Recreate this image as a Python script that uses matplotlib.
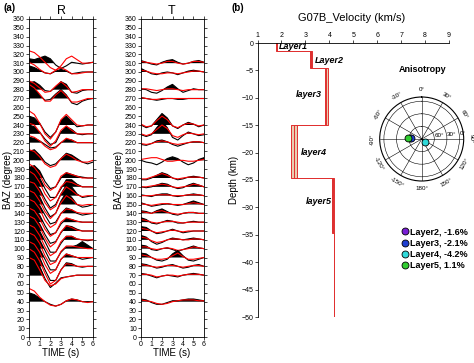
import numpy as np
import matplotlib.pyplot as plt
from matplotlib.lines import Line2D

plt.rcParams['font.family'] = ['Liberation Sans', 'DejaVu Sans']

# ---- receiver functions (amplitudes in degree units, sampled every 0.5 s) ----
time_s = [0, 0.5, 1, 1.5, 2, 2.5, 3, 3.5, 4, 4.5, 5, 5.5, 6]
baz = [310, 300, 280, 270, 240, 230, 220, 200, 180, 170, 160,
       150, 140, 130, 120, 110, 100, 90, 80, 70, 40]

r_obs = [
    [5, 4, 6, 8, 5, -2, -6, -3, 1, 0, -1, 0, 1],
    [7, 5, 2, -1, -2, 1, 3, 1, -2, -1, 0, 0, 0],
    [8, 9, 5, -1, -2, 3, 9, 6, -3, -4, -1, 0, 0],
    [14, 11, 4, -2, -1, 5, 10, 4, -5, -7, -3, -1, 0],
    [10, 8, 2, -8, -14, -8, 5, 10, 4, -2, -1, 0, 0],
    [10, 8, 2, -6, -12, -10, 2, 8, 5, 0, -1, 0, 0],
    [6, 5, 2, -2, -6, -5, 0, 4, 3, 0, 0, 0, 0],
    [10, 12, 6, -2, -6, -4, 2, 8, 6, 2, -2, -4, -2],
    [12, 14, 8, -4, -12, -10, 0, 6, 4, 2, 1, 0, 0],
    [14, 16, 10, -2, -12, -12, -2, 8, 8, 3, 0, 0, 0],
    [14, 14, 8, -4, -14, -10, 2, 12, 10, 2, -2, -1, 0],
    [14, 15, 9, -4, -14, -10, 4, 14, 8, 0, -3, -2, 0],
    [14, 15, 9, -2, -12, -10, 0, 6, 4, 0, -2, -1, 0],
    [14, 14, 8, -4, -14, -12, -2, 4, 3, 1, 0, 0, 0],
    [15, 15, 8, -4, -14, -12, -2, 6, 5, 2, 0, 0, 0],
    [15, 16, 10, -2, -14, -14, -4, 4, 4, 1, 0, -1, 0],
    [16, 16, 10, -2, -14, -14, -4, 2, 2, 4, 8, 4, 0],
    [16, 17, 10, -2, -14, -14, -2, 4, 2, 0, -2, -1, 0],
    [18, 18, 10, -4, -16, -16, -4, 4, 3, 0, -1, 0, 0],
    [20, 20, 10, -4, -14, -9, -3, -2, -1, 0, 0, 0, 0],
    [10, 8, 4, 0, -3, -5, -3, 1, 3, 2, 0, 0, 0],
]
r_pred = [
    [14, 12, 7, 1, -5, -8, -3, 5, 8, 4, 0, 0, 1],
    [11, 8, 3, -1, -2, 2, 5, 2, -2, -2, -1, 0, 0],
    [10, 7, 2, -3, -2, 4, 9, 4, -3, -2, 0, 0, 0],
    [16, 12, 5, -3, -3, 4, 9, 3, -4, -4, -2, 0, 0],
    [16, 12, 2, -10, -16, -8, 6, 12, 6, 0, -1, 0, 0],
    [12, 10, 2, -8, -14, -8, 4, 9, 4, 0, 0, 0, 0],
    [8, 6, 2, -4, -8, -6, 0, 5, 3, 0, 0, 0, 0],
    [12, 10, 4, -4, -8, -6, 2, 7, 4, 0, -2, -2, 0],
    [16, 12, 4, -8, -14, -10, 2, 6, 4, 2, 0, 0, 0],
    [18, 14, 5, -8, -16, -12, 0, 6, 5, 2, 0, 0, 0],
    [16, 14, 5, -8, -16, -12, 2, 10, 6, 1, -1, 0, 0],
    [16, 13, 4, -8, -16, -10, 2, 10, 6, 0, -1, 0, 0],
    [16, 13, 5, -8, -16, -12, 0, 5, 4, 1, 0, 0, 0],
    [16, 13, 4, -8, -16, -12, 0, 5, 3, 1, 0, 0, 0],
    [17, 14, 5, -8, -18, -13, -1, 6, 4, 1, 0, 0, 0],
    [17, 14, 5, -8, -18, -14, -2, 4, 4, 1, 0, 0, 0],
    [18, 15, 6, -8, -18, -15, -3, 3, 3, 2, 1, 0, 0],
    [18, 15, 6, -8, -18, -14, -2, 4, 2, 0, 0, 0, 0],
    [20, 16, 6, -8, -20, -16, -4, 3, 2, 0, 0, 0, 0],
    [20, 17, 6, -6, -12, -10, -4, -2, -1, 0, 0, 0, 0],
    [15, 12, 5, 0, -4, -5, -3, 1, 3, 2, 0, -1, 0],
]
t_obs = [
    [3, 1, -1, -2, 1, 3, 4, 1, -1, 0, 2, 3, 1],
    [4, 1, -2, -3, -1, 0, -1, -3, -1, 1, 2, 1, 0],
    [1, 0, -3, -4, -1, 3, 6, 1, -3, -1, 1, 0, 0],
    [1, 0, -1, -2, -1, 0, 0, -1, -1, 0, 0, 0, 0],
    [0, -3, -1, 6, 13, 8, -1, -4, 0, 3, 1, -2, 0],
    [-1, -3, -1, 7, 14, 7, -4, -7, -2, 2, 0, -2, -1],
    [-2, -3, -1, 2, 3, 1, -2, -4, -2, 0, 1, 1, 0],
    [0, -2, -3, -5, -2, 2, 4, 2, -2, -5, -3, 1, 3],
    [-2, -2, 0, 3, 6, 4, 0, -2, -1, 1, 2, 1, 0],
    [0, -1, 0, 2, 4, 3, 0, -2, -1, 2, 4, 2, 0],
    [1, 0, -1, 1, 2, 2, 0, -1, 0, 1, 2, 1, 0],
    [2, 0, -2, -1, 0, 1, 0, -1, 0, 2, 4, 2, 0],
    [3, 2, 0, 3, 5, 2, -1, -2, 0, 1, 1, 0, 0],
    [5, 3, -1, -2, 0, 2, 1, -1, -1, 0, 1, 0, 0],
    [5, 4, 0, -3, -2, 0, 2, 0, -2, -1, 0, 0, 0],
    [5, 3, -2, -5, -3, 0, 2, 1, 0, 1, 2, 1, 0],
    [4, 3, -1, -2, 0, 1, -1, -3, -1, 1, 3, 1, 0],
    [5, 4, 0, -3, -4, -2, 4, 8, 2, -3, -4, -2, 0],
    [3, 2, 0, -2, -1, 1, 2, 0, -2, -1, 1, 2, 0],
    [2, 1, -1, -3, -1, 0, -1, -2, 0, 1, 2, 1, 0],
    [3, 2, -1, -3, -3, -1, 1, 1, 2, 3, 3, 2, 1],
]
t_pred = [
    [2, 1, 0, -1, 0, 2, 2, 0, -1, 0, 2, 2, 1],
    [2, 1, -1, -2, -2, -1, -1, -2, -1, 0, 1, 1, 0],
    [1, 1, 0, -1, 0, 1, 1, 0, -1, 0, 0, 0, 0],
    [1, 0, -1, -1, 0, 0, 0, 0, 0, 0, 0, 0, 0],
    [1, -2, -1, 5, 10, 6, -1, -3, 0, 2, 1, -1, 0],
    [0, -2, 0, 5, 10, 6, -2, -4, -1, 1, 0, -1, 0],
    [-1, -2, -1, 1, 2, 1, -1, -2, -1, 0, 1, 1, 0],
    [1, 2, 3, 3, 1, -1, -1, 0, 0, -1, -1, 0, 1],
    [-1, -1, 1, 3, 5, 3, 0, -1, 0, 1, 1, 1, 0],
    [0, 0, 1, 2, 3, 2, 0, -1, 0, 1, 3, 2, 0],
    [0, 0, 0, 1, 1, 1, 0, 0, 0, 1, 1, 1, 0],
    [1, 0, -1, 0, 1, 1, 0, 0, 0, 1, 2, 1, 0],
    [2, 1, 0, 2, 3, 1, 0, -1, 0, 1, 1, 0, 0],
    [3, 2, 0, -1, 0, 1, 1, 0, -1, 0, 0, 0, 0],
    [3, 2, 0, -2, -1, 0, 1, 0, -1, 0, 0, 0, 0],
    [3, 2, -1, -3, -2, 0, 1, 1, 0, 0, 1, 1, 0],
    [2, 2, 0, -1, 0, 1, 0, -2, -1, 0, 2, 1, 0],
    [3, 2, 0, -2, -2, -1, 2, 5, 1, -2, -2, -1, 0],
    [2, 1, 0, -1, 0, 1, 1, 0, -1, 0, 1, 1, 0],
    [1, 1, 0, -2, -1, 0, 0, -1, 0, 1, 1, 1, 0],
    [2, 1, 0, -2, -3, -2, 0, 1, 2, 2, 2, 1, 1],
]

# ---- velocity models ----
layer_tops = [0, -1.5, -4.5, -15.0, -24.6, -34.7]
model_bottom = -50
vel_models = [
    [1.78, 3.18, 3.80, 2.42, 4.13, 4.20],
    [1.80, 3.22, 3.87, 2.52, 4.17, 4.20],
    [1.82, 3.26, 3.93, 2.66, 4.20, 4.20],
]
layer_names = ['Layer1', 'Layer2', 'layer3', 'layer4', 'layer5']
label_pos_v = [1.9, 3.4, 2.6, 2.8, 3.0]
label_pos_z = [-0.7, -3.2, -9.4, -20.0, -29.0]

# ---- anisotropy ----
aniso_labels = ['Layer2, -1.6%', 'Layer3, -2.1%', 'Layer4, -4.2%', 'Layer5, 1.1%']
aniso_azimuth = [-85, -84, 132, -86]
aniso_radius = [27, 26, 11, 33]
aniso_colors = ['#7a1fd6', '#1f3fd0', '#30dada', '#30cc30']

W, H = 474, 363
fig = plt.figure(figsize=(W / 100, H / 100), dpi=100)


def fx(px):
    return px / W


def fy(py):
    return 1 - py / H


def draw_rf(ax, obs, pred):
    t = np.array(time_s)
    for b, o, p in zip(baz, obs, pred):
        yo = b + np.array(o, float)
        yp = b + np.array(p, float)
        ax.fill_between(t, b, yo, where=yo > b, interpolate=True, color='k', lw=0)
        ax.plot(t, yo, color='k', lw=0.8)
        ax.plot(t, yp, color='red', lw=0.8)
    ax.set_xlim(0, 6)
    ax.set_ylim(0, 360)
    ax.set_yticks(np.arange(0, 361, 10))
    ax.set_xticks(np.arange(0, 7, 1))
    ax.tick_params(labelsize=5, length=2, width=0.5, pad=1, top=True, right=True)
    for s in ax.spines.values():
        s.set_linewidth(0.6)


ax_r = fig.add_axes([fx(29), fy(337), fx(93 - 29), fy(19) - fy(337)])
draw_rf(ax_r, r_obs, r_pred)
ax_t = fig.add_axes([fx(141), fy(337), fx(204 - 141), fy(19) - fy(337)])
draw_rf(ax_t, t_obs, t_pred)

fig.text(fx(4), fy(8), '(a)', fontsize=7, fontweight='bold', va='center')
fig.text(fx(232), fy(8), '(b)', fontsize=7, fontweight='bold', va='center')
fig.text(fx(61), fy(11), 'R', fontsize=9, ha='center', va='center')
fig.text(fx(172), fy(11), 'T', fontsize=9, ha='center', va='center')
for xp in (8, 119):
    fig.text(fx(xp), fy(180), 'BAZ (degree)', fontsize=7, rotation=90, ha='center', va='center')
for xp in (61, 172):
    fig.text(fx(xp), fy(353), 'TIME (s)', fontsize=7, ha='center', va='center')

# ---- velocity profile ----
ax_v = fig.add_axes([fx(257.5), fy(317), fx(449 - 257.5), fy(43) - fy(317)])
bounds = layer_tops + [model_bottom]
vm = np.array(vel_models)
vmin, vmax = vm.min(axis=0), vm.max(axis=0)
for i in range(len(layer_tops)):
    z = [bounds[i], bounds[i + 1]]
    col = '#8a6f6f' if i in (1, 4) else '#e9cdb0'
    ax_v.fill_betweenx(z, vmin[i], vmax[i], color=col, lw=0)
for v in vel_models:
    zz = np.repeat(bounds, 2)[1:-1]
    vv = np.repeat(v, 2)
    ax_v.plot(vv, zz, color='#e03030', lw=0.7)
for name, xv, zv in zip(layer_names, label_pos_v, label_pos_z):
    ax_v.text(xv, zv, name, fontsize=6.5, fontweight='bold', style='italic', va='center')
ax_v.set_xlim(1, 9)
ax_v.set_ylim(-50, 0)
ax_v.xaxis.tick_top()
ax_v.set_xticks(range(1, 10))
ax_v.set_yticks(range(-50, 1, 5))
ax_v.spines['right'].set_visible(False)
ax_v.spines['bottom'].set_visible(False)
for s in ax_v.spines.values():
    s.set_linewidth(0.6)
ax_v.tick_params(labelsize=5, length=2, width=0.5, pad=1)
ax_v.set_ylabel('Depth (km)', fontsize=7, labelpad=2)
fig.text(fx(352), fy(18), 'G07B_Velocity (km/s)', fontsize=8, ha='center', va='center')
fig.text(fx(423), fy(69), 'Anisotropy', fontsize=6.5, fontweight='bold', ha='center', va='center')

# ---- anisotropy polar plot ----
r_px = 42
ax_p = fig.add_axes([fx(421.7 - r_px), fy(139 + r_px), fx(2 * r_px), fy(139 - r_px) - fy(139 + r_px)],
                    projection='polar')
ax_p.set_theta_zero_location('N')
ax_p.set_theta_direction(-1)
ax_p.set_ylim(0, 100)
ax_p.set_yticks([30, 60, 90])
ax_p.set_yticklabels(['60°', '30°', '0°'])
ax_p.set_rlabel_position(85)
# ticks must stay inside 0..360, otherwise the theta limits grow
ang = np.arange(0, 360, 30)
ax_p.set_xticks(np.deg2rad(ang))
ax_p.set_xticklabels([f'{a if a <= 180 else a - 360}°' for a in ang])
ax_p.tick_params(axis='x', labelsize=4.5, pad=-5, labelrotation='auto')
ax_p.tick_params(axis='y', labelsize=4.5, pad=0)
ax_p.grid(color='k', lw=0.4)
ax_p.spines['polar'].set_linewidth(0.8)
for a, r, c, lab in zip(aniso_azimuth, aniso_radius, aniso_colors, aniso_labels):
    ax_p.plot(np.deg2rad(a), r, 'o', color=c, mec='k', mew=0.6, ms=5, label=lab)

handles = [Line2D([], [], ls='none', marker='o', color=c, mec='k', mew=0.6, ms=5)
           for c in aniso_colors]
fig.legend(handles, aniso_labels, loc='upper left', bbox_to_anchor=(fx(396), fy(223)),
           frameon=False, prop={'size': 6.5, 'weight': 'bold'},
           handletextpad=0.1, labelspacing=0.25, borderpad=0, handlelength=1)

fig.savefig('out.png', dpi=100)
